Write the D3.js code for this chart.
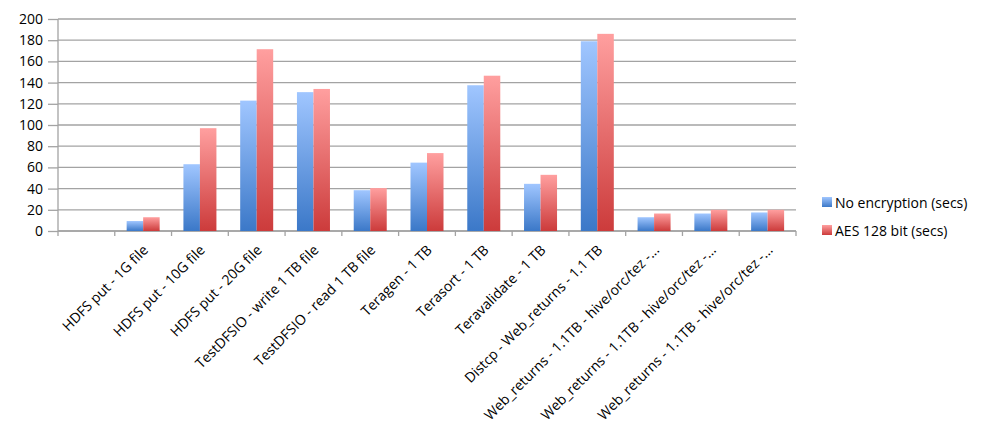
<!DOCTYPE html>
<html>
<head>
<meta charset="utf-8">
<script src="https://cdn.jsdelivr.net/npm/d3@7"></script>
<style>
  body { margin: 0; background: #fff; }
  text { font-family: "Open Sans", "Liberation Sans", sans-serif; fill: #000; }
</style>
</head>
<body>
<script>
// categories (first slot is empty in the original chart)
var categories = [
    "",
    "HDFS put - 1G file",
    "HDFS put - 10G file",
    "HDFS put - 20G file",
    "TestDFSIO - write 1 TB file",
    "TestDFSIO - read 1 TB file",
    "Teragen - 1 TB",
    "Terasort - 1 TB",
    "Teravalidate - 1 TB",
    "Distcp - Web_returns - 1.1 TB",
    "Web_returns - 1.1TB - hive/orc/tez -...",
    "Web_returns - 1.1TB - hive/orc/tez -...",
    "Web_returns - 1.1TB - hive/orc/tez -..."
];

var noEncryption = [null, 9.4, 63, 123, 131, 38.5, 64.5, 137.5, 44.5, 179, 13, 16.5, 17.5];
var aes128 = [null, 13, 97, 171.5, 134, 40.5, 73.5, 146.5, 53, 186, 16.5, 20, 20];

var seriesNames = ["No encryption (secs)", "AES 128 bit (secs)"];
var yTicks = [0, 20, 40, 60, 80, 100, 120, 140, 160, 180, 200];

// set the dimensions and margins of the graph
var margin = {top: 19, right: 190, bottom: 198, left: 58},
    width = 986 - margin.left - margin.right,
    height = 429 - margin.top - margin.bottom;

var root = d3.select("body").append("svg")
    .attr("width", 986)
    .attr("height", 429);

// gradients for the bars
var defs = root.append("defs");
var gradColors = [["#a0c6ff", "#3b78c8"], ["#ff9f9f", "#cc3b3b"]];
gradColors.forEach(function (c, i) {
    var g = defs.append("linearGradient")
        .attr("id", "grad" + i)
        .attr("x1", 0).attr("y1", 0)
        .attr("x2", 0).attr("y2", 1);
    g.append("stop").attr("offset", "0%").attr("stop-color", c[0]);
    g.append("stop").attr("offset", "100%").attr("stop-color", c[1]);
});

var svg = root.append("g")
    .attr("transform", "translate(" + margin.left + "," + margin.top + ")");

var x = d3.scaleBand()
    .domain(d3.range(categories.length))
    .range([0, width]);

var x1 = d3.scaleBand()
    .domain([0, 1])
    .range([0, x.bandwidth()])
    .paddingOuter(0.72);

var y = d3.scaleLinear()
    .domain([0, 200])
    .range([height, 0]);

// gridlines
svg.append("g")
    .selectAll("line")
    .data(yTicks)
    .enter()
    .append("line")
    .attr("x1", 0)
    .attr("x2", width)
    .attr("y1", function (d) { return y(d); })
    .attr("y2", function (d) { return y(d); })
    .attr("stroke", "#a3a3a3")
    .attr("stroke-width", 1.3);

// Add the Y Axis
var yAxis = svg.append("g")
    .call(d3.axisLeft(y).tickValues(yTicks).tickSize(10).tickPadding(5));
yAxis.selectAll("line").attr("stroke", "#a3a3a3").attr("stroke-width", 1.3);
yAxis.select(".domain").attr("stroke", "#a3a3a3").attr("stroke-width", 1.3)
    .attr("d", "M0,0V" + height);
yAxis.selectAll("text").style("font-size", "14px")
    .style("font-family", "'Open Sans', sans-serif");

// x axis ticks at band edges
var edges = d3.range(categories.length + 1);
svg.append("g")
    .selectAll("line")
    .data(edges)
    .enter()
    .append("line")
    .attr("x1", function (d) { return d * x.step(); })
    .attr("x2", function (d) { return d * x.step(); })
    .attr("y1", height)
    .attr("y2", height + 5)
    .attr("stroke", "#a3a3a3")
    .attr("stroke-width", 1.3);
svg.append("line")
    .attr("x1", 0).attr("x2", width)
    .attr("y1", height).attr("y2", height)
    .attr("stroke", "#a3a3a3")
    .attr("stroke-width", 1.3);

// category labels
svg.append("g")
    .selectAll("text")
    .data(categories)
    .enter()
    .append("text")
    .attr("transform", function (d, i) {
        return "translate(" + (x(i) + x.bandwidth() / 2 + 6) + "," + (height + 20) + ") rotate(-45)";
    })
    .attr("text-anchor", "end")
    .style("font-size", "14px")
    .text(function (d) { return d; });

// bars
var series = [noEncryption, aes128];
series.forEach(function (vals, s) {
    svg.append("g")
        .selectAll("rect")
        .data(vals.map(function (v, i) { return {i: i, v: v}; })
            .filter(function (d) { return d.v != null; }))
        .enter()
        .append("rect")
        .attr("x", function (d) { return x(d.i) + x1(s); })
        .attr("y", function (d) { return y(d.v); })
        .attr("width", x1.bandwidth())
        .attr("height", function (d) { return height - y(d.v); })
        .style("fill", "url(#grad" + s + ")");
});

// legend
var legend = root.append("g")
    .attr("transform", "translate(822,197)");
seriesNames.forEach(function (name, i) {
    var row = legend.append("g")
        .attr("transform", "translate(0," + (i * 28) + ")");
    row.append("rect")
        .attr("width", 10).attr("height", 10)
        .style("fill", "url(#grad" + i + ")");
    row.append("text")
        .attr("x", 13)
        .attr("y", 11)
        .style("font-size", "14px")
        .text(name);
});
</script>
</body>
</html>
